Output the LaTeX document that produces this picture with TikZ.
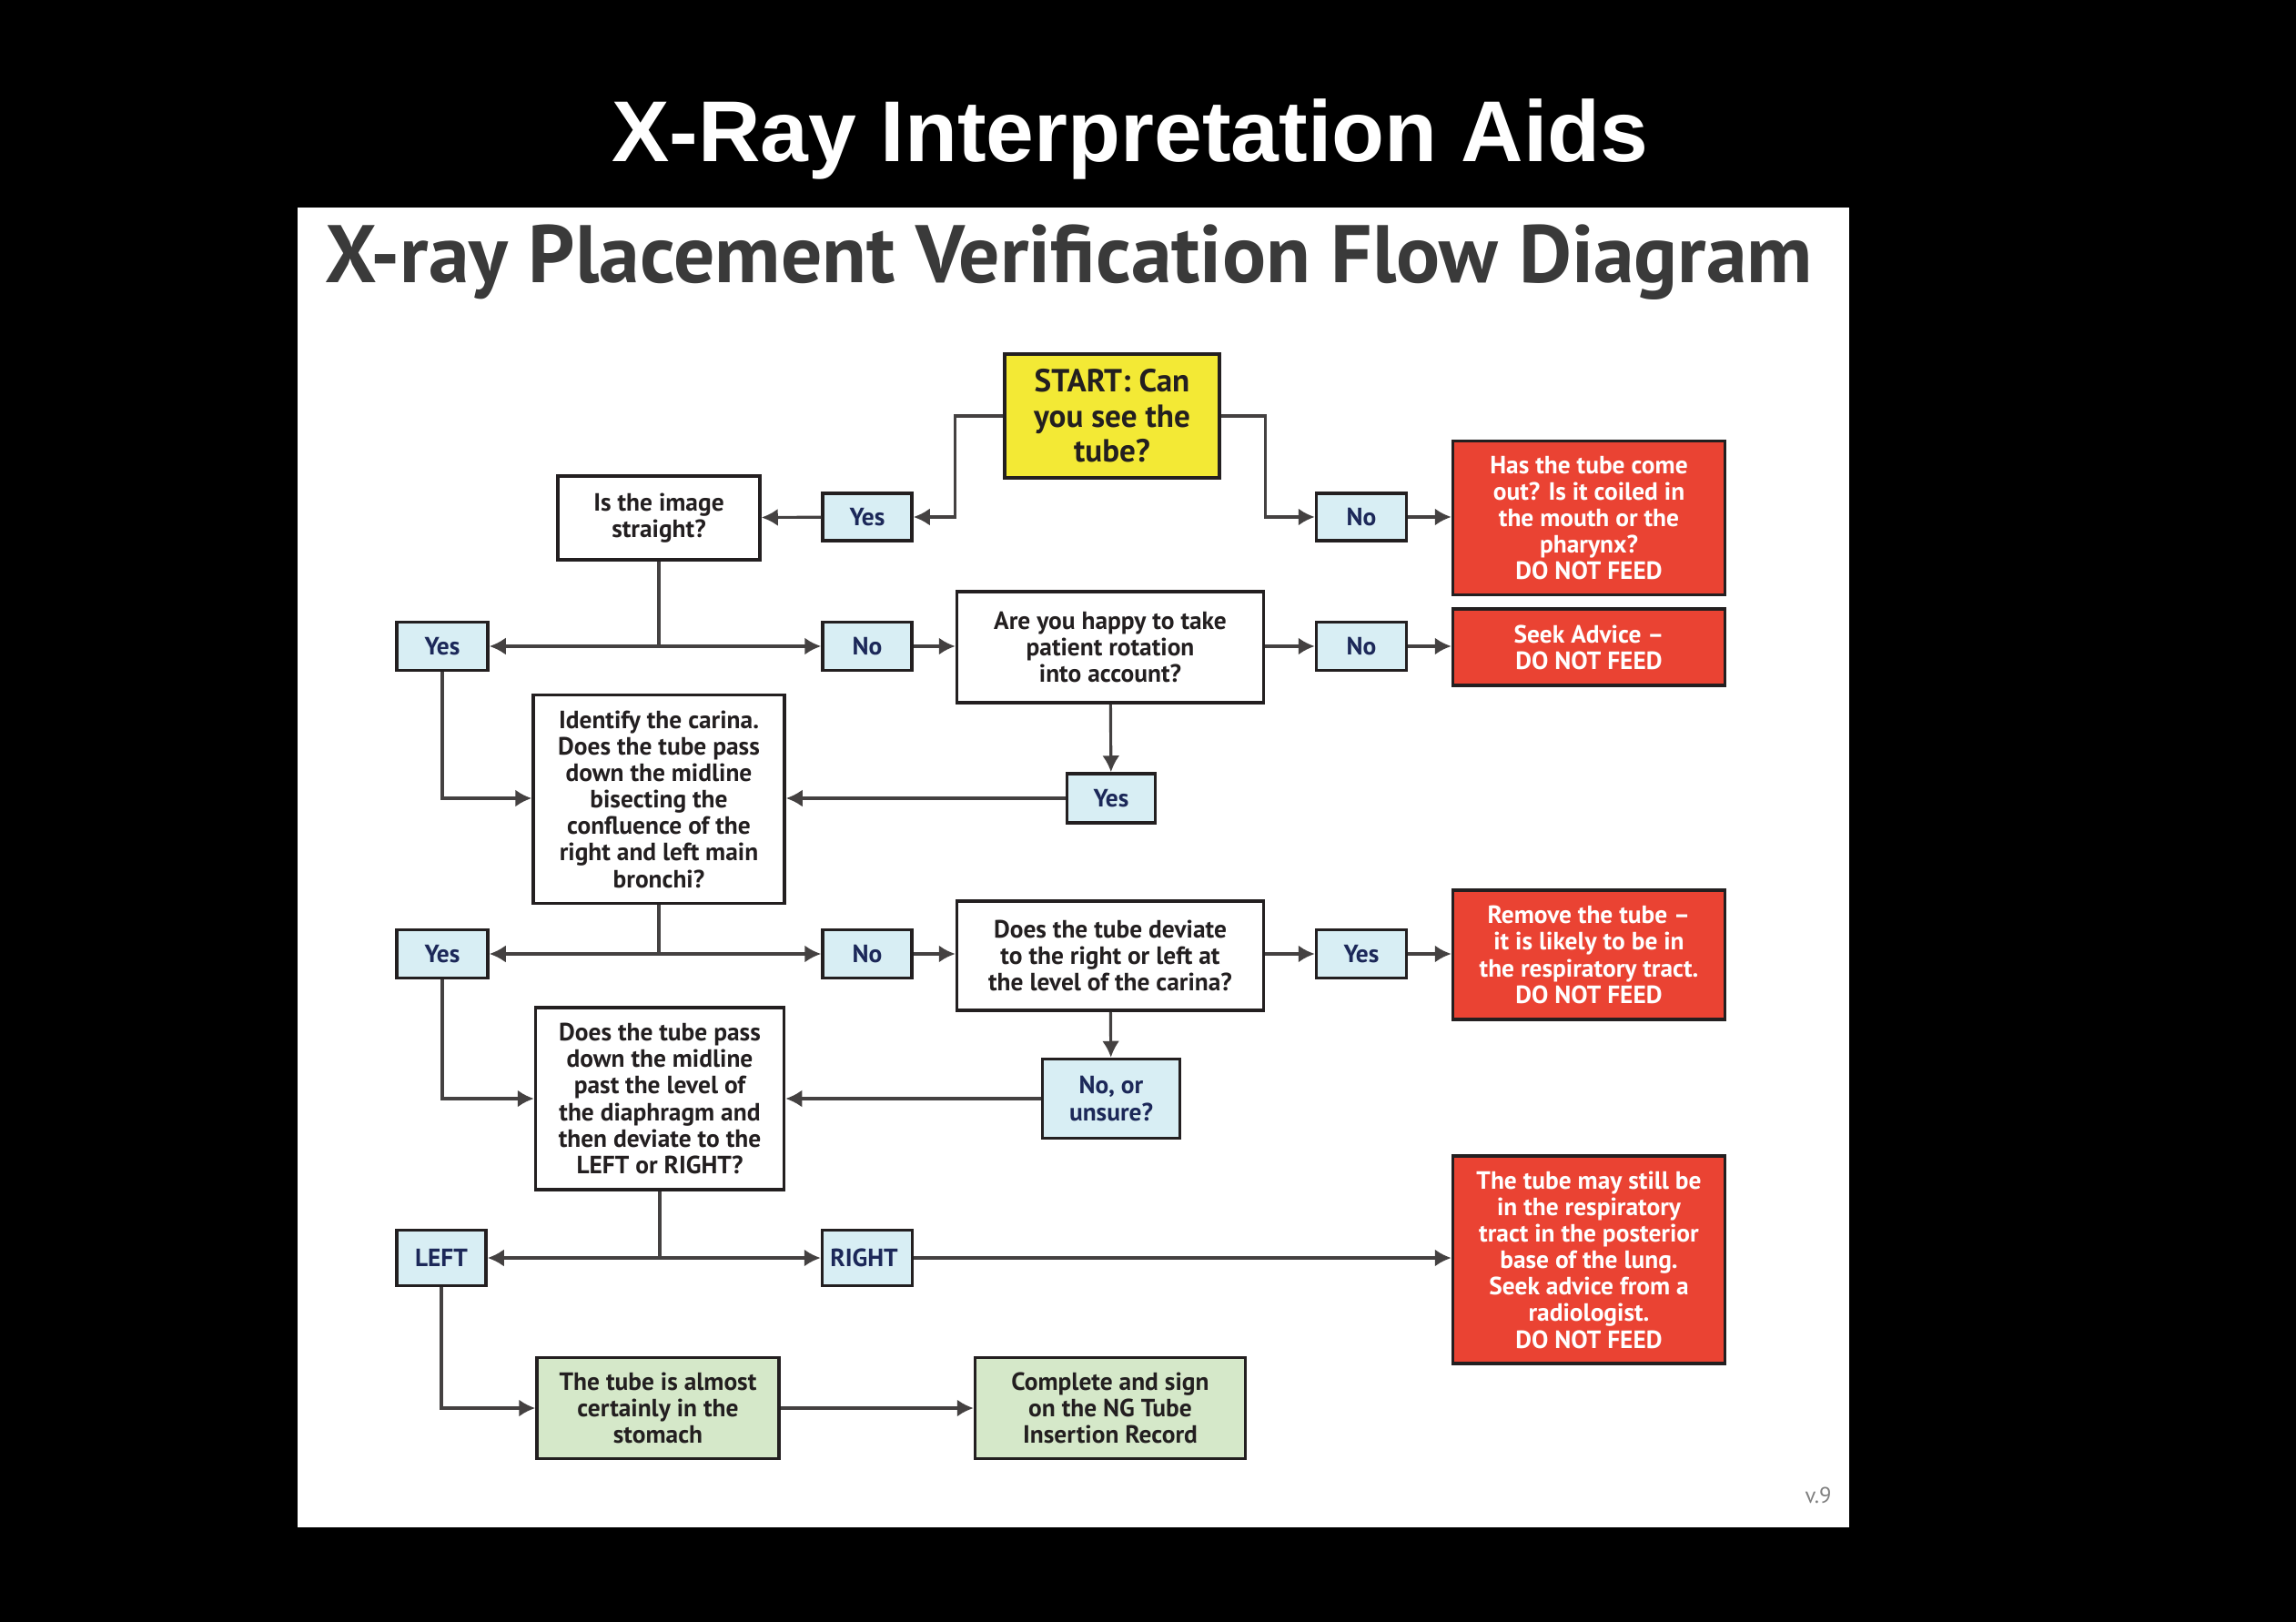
\documentclass[tikz,border=0pt]{standalone}
\usepackage{fontspec}
\setmainfont{PT Sans}
\newfontfamily\titlefont{Liberation Sans}
\usetikzlibrary{arrows.meta}

\definecolor{askyellow}{HTML}{F3E935}
\definecolor{answerblue}{HTML}{D8EEF4}
\definecolor{stopred}{HTML}{EA4333}
\definecolor{goodgreen}{HTML}{D5E8C9}
\definecolor{navy}{HTML}{1C2859}
\definecolor{ink}{HTML}{231F20}
\definecolor{subgray}{HTML}{3A3A3A}

\begin{document}
\begin{tikzpicture}[
    box/.style={draw=ink, line width=1pt, fill=white, align=center, inner sep=0pt,
        text=ink, font=\bfseries\fontsize{7.8}{8.3}\selectfont},
    answer/.style={box, fill=answerblue, text=navy},
    stopbox/.style={box, fill=stopred, text=white},
    gobox/.style={box, fill=goodgreen},
    arr/.style={-{Latex[length=1.8mm,width=1.9mm]}, line width=0.9pt, draw=ink!85}
]

% ---- Page, panel and titles ----
\fill[black] (0,0) rectangle (25.23,-17.82);
\fill[white] (3.27,-2.28) rectangle (20.32,-16.78);
\useasboundingbox (0,0) rectangle (25.23,-17.82);

\node[text=white, font=\titlefont\bfseries\fontsize{27}{32}\selectfont] (title) at (12.42,-1.53)
    {X-Ray Interpretation Aids};
\node[anchor=west, text=subgray, inner sep=0pt, font=\bfseries\fontsize{25.5}{29}\selectfont] (subtitle) at (3.57,-2.88)
    {X-ray Placement Verification Flow Diagram};

% ---- Question boxes ----
\node[box, fill=askyellow, minimum width=2.36cm, minimum height=1.36cm,
      font=\bfseries\fontsize{10}{10.9}\selectfont] (start) at (12.22,-4.57)
    {START: Can\\you see the\\tube?};
\node[box, minimum width=2.22cm, minimum height=0.92cm] (straight) at (7.24,-5.69)
    {Is the image\\straight?};
\node[box, minimum width=3.37cm, minimum height=1.22cm] (happy) at (12.20,-7.11)
    {Are you happy to take\\patient rotation\\into account?};
\node[box, minimum width=2.76cm, minimum height=2.29cm] (carina) at (7.24,-8.78)
    {Identify the carina.\\Does the tube pass\\down the midline\\bisecting the\\confluence of the\\right and left main\\bronchi?};
\node[box, minimum width=3.37cm, minimum height=1.20cm] (deviate) at (12.20,-10.50)
    {Does the tube deviate\\to the right or left at\\the level of the carina?};
\node[box, minimum width=2.73cm, minimum height=2.00cm] (diaphragm) at (7.25,-12.07)
    {Does the tube pass\\down the midline\\past the level of\\the diaphragm and\\then deviate to the\\LEFT or RIGHT?};

% ---- Answers ----
\foreach \nm/\px/\py/\bw/\bh/\txt in {
    yesA/9.53/-5.68/0.98/0.52/Yes,  noA/14.96/-5.68/0.99/0.52/No,
    yesB/4.86/-7.10/1.00/0.53/Yes,  noB/9.53/-7.10/0.98/0.53/No,
    noC/14.96/-7.10/0.99/0.53/No,   yesC/12.21/-8.77/0.97/0.54/Yes,
    yesD/4.86/-10.48/1.00/0.53/Yes, noD/9.53/-10.48/0.98/0.53/No,
    yesE/14.96/-10.48/0.99/0.53/Yes, unsure/12.21/-12.07/1.51/0.87/{No, or\\unsure?},
    left/4.85/-13.82/0.98/0.61/LEFT, right/9.53/-13.82/0.99/0.61/RIGHT
}{
    \node[answer, minimum width=\bw cm, minimum height=\bh cm] (\nm) at (\px,\py) {\txt};
}

% ---- Outcomes ----
\node[stopbox, minimum width=2.99cm, minimum height=1.69cm] (red1) at (17.46,-5.69)
    {Has the tube come\\out? Is it coiled in\\the mouth or the\\pharynx?\\DO NOT FEED};
\node[stopbox, minimum width=2.99cm, minimum height=0.84cm] (red2) at (17.46,-7.11)
    {Seek Advice --\\DO NOT FEED};
\node[stopbox, minimum width=2.99cm, minimum height=1.42cm] (red3) at (17.46,-10.49)
    {Remove the tube --\\it is likely to be in\\the respiratory tract.\\DO NOT FEED};
\node[stopbox, minimum width=2.99cm, minimum height=2.28cm] (red4) at (17.46,-13.84)
    {The tube may still be\\in the respiratory\\tract in the posterior\\base of the lung.\\Seek advice from a\\radiologist.\\DO NOT FEED};
\node[gobox, minimum width=2.66cm, minimum height=1.11cm] (stomach) at (7.23,-15.47)
    {The tube is almost\\certainly in the\\stomach};
\node[gobox, minimum width=2.97cm, minimum height=1.11cm] (record) at (12.20,-15.47)
    {Complete and sign\\on the NG Tube\\Insertion Record};

\node[text=gray, font=\fontsize{7}{8}\selectfont] (version) at (19.98,-16.43) {v.9};

% ---- Connectors ----
\draw[arr] (start.west) -- (start.west -| happy.west) |- (yesA.east);
\draw[arr] (yesA) -- (straight);
\draw[arr] (start.east) -- (start.east -| happy.east) |- (noA.west);
\draw[arr] (noA) -- (red1.west |- noA);

\draw[arr] (straight.south) |- (yesB.east);
\draw[arr] (straight.south) |- (noB.west);
\draw[arr] (noB) -- (happy.west |- noB);
\draw[arr] (happy.east |- noC) -- (noC);
\draw[arr] (noC) -- (red2.west |- noC);
\draw[arr] (happy) -- (yesC);
\draw[arr] (yesC) -- (carina.east |- yesC);
\draw[arr] (yesB.south) |- (carina.west |- yesC);

\draw[arr] (carina.south) |- (yesD.east);
\draw[arr] (carina.south) |- (noD.west);
\draw[arr] (noD) -- (deviate.west |- noD);
\draw[arr] (deviate.east |- yesE) -- (yesE);
\draw[arr] (yesE) -- (red3.west |- yesE);
\draw[arr] (deviate) -- (unsure);
\draw[arr] (unsure) -- (diaphragm);
\draw[arr] (yesD.south) |- (diaphragm.west);

\draw[arr] (diaphragm.south) |- (left.east);
\draw[arr] (diaphragm.south) |- (right.west);
\draw[arr] (right) -- (red4.west |- right);
\draw[arr] (left.south) |- (stomach.west);
\draw[arr] (stomach) -- (record);

\end{tikzpicture}
\end{document}
